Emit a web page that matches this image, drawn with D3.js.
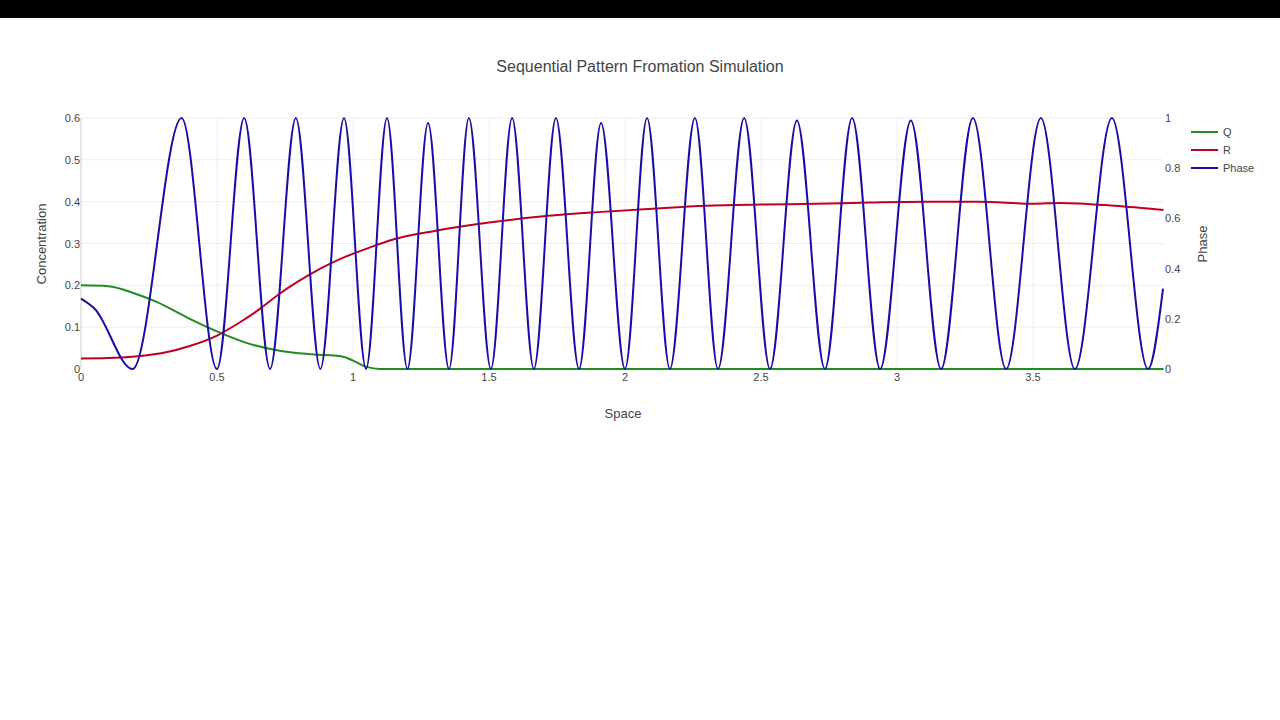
<!DOCTYPE html>
<html><head><meta charset="utf-8">
<script src="https://cdn.jsdelivr.net/npm/d3@7"></script>
<style>body{margin:0;background:#fff}svg{display:block}text{font-family:"Liberation Sans",Arial,sans-serif}</style>
</head><body><div id="chart"></div>
<script>
// Q concentration
const qX = [0, 0.1, 0.2, 0.28, 0.4, 0.5, 0.62, 0.72, 0.85, 0.96, 1.0, 1.05, 1.1, 2, 3, 3.98];
const qY = [0.2, 0.198, 0.18, 0.16, 0.12, 0.09, 0.06, 0.045, 0.035, 0.03, 0.02, 0.005, 0, 0, 0, 0];
// R concentration
const rX = [0, 0.1, 0.2, 0.3, 0.4, 0.5, 0.58, 0.65, 0.73, 0.8, 0.88, 0.96, 1.06, 1.15, 1.3, 1.5, 1.7, 1.9, 2.1, 2.3, 2.5, 2.7, 2.9, 3.1, 3.3, 3.5, 3.6, 3.8, 3.98];
const rY = [0.025, 0.026, 0.03, 0.038, 0.055, 0.08, 0.11, 0.14, 0.18, 0.21, 0.24, 0.265, 0.29, 0.31, 0.33, 0.35, 0.365, 0.375, 0.383, 0.39, 0.393, 0.395, 0.398, 0.4, 0.4, 0.395, 0.397, 0.39, 0.38];
// Phase (right axis) extrema
const pX = [0, 0.05, 0.19, 0.37, 0.5, 0.6, 0.695, 0.79, 0.88, 0.967, 1.048, 1.125, 1.2, 1.276, 1.353, 1.426, 1.507, 1.585, 1.665, 1.746, 1.831, 1.912, 2.0, 2.081, 2.165, 2.257, 2.342, 2.438, 2.533, 2.632, 2.735, 2.835, 2.938, 3.051, 3.162, 3.279, 3.401, 3.529, 3.654, 3.79, 3.923, 3.978];
const pY = [0.28, 0.24, 0, 1, 0, 1, 0, 1, 0, 1, 0, 1, 0, 0.98, 0, 1, 0, 1, 0, 1, 0, 0.98, 0, 1, 0, 1, 0, 1, 0, 0.99, 0, 1, 0, 0.99, 0, 1, 0, 1, 0, 1, 0, 0.32];
const xTicks = [0, 0.5, 1, 1.5, 2, 2.5, 3, 3.5];
const yTicks = [0, 0.1, 0.2, 0.3, 0.4, 0.5, 0.6];
const y2Ticks = [0, 0.2, 0.4, 0.6, 0.8, 1];

const svg = d3.select("#chart").append("svg").attr("width", 1280).attr("height", 720);
svg.append("rect").attr("width", 1280).attr("height", 720).attr("fill", "#fff");
svg.append("rect").attr("width", 1280).attr("height", 18).attr("fill", "#000");

const x = d3.scaleLinear().domain([0, 4]).range([81, 1169]);
const y = d3.scaleLinear().domain([0, 0.6]).range([369, 118]);
const y2 = d3.scaleLinear().domain([0, 1]).range([369, 118]);

// grid
svg.append("g").selectAll("line").data(yTicks.slice(1)).join("line")
  .attr("x1", 81).attr("x2", 1163).attr("y1", d => y(d)).attr("y2", d => y(d))
  .attr("stroke", "#eee");
svg.append("g").selectAll("line").data(xTicks.slice(1)).join("line")
  .attr("x1", d => x(d)).attr("x2", d => x(d)).attr("y1", 118).attr("y2", 369)
  .attr("stroke", "#eee");

const tick = {fill: "#444", size: "11px"};
svg.append("g").selectAll("text").data(xTicks).join("text")
  .attr("x", d => x(d)).attr("y", 381).attr("text-anchor", "middle")
  .style("font-size", tick.size).attr("fill", tick.fill).text(d => d);
svg.append("g").selectAll("text").data(yTicks).join("text")
  .attr("x", 80).attr("y", d => y(d) + 4).attr("text-anchor", "end")
  .style("font-size", tick.size).attr("fill", tick.fill).text(d => d);
svg.append("g").selectAll("text").data(y2Ticks).join("text")
  .attr("x", 1165).attr("y", d => y2(d) + 4).attr("text-anchor", "start")
  .style("font-size", tick.size).attr("fill", tick.fill).text(d => d);

svg.append("line").attr("x1", 81).attr("x2", 81).attr("y1", 118).attr("y2", 369).attr("stroke", "#ccc");

const line = (xs, ys, sc) => d3.line().x(i => x(xs[i])).y(i => sc(ys[i])).curve(d3.curveMonotoneX)(d3.range(xs.length));
svg.append("path").attr("d", line(qX, qY, y)).attr("fill", "none").attr("stroke", "#1f8c1f").attr("stroke-width", 2);
svg.append("path").attr("d", line(rX, rY, y)).attr("fill", "none").attr("stroke", "#c00020").attr("stroke-width", 2);
svg.append("path").attr("d", line(pX, pY, y2)).attr("fill", "none").attr("stroke", "#1a0da6").attr("stroke-width", 2);

svg.append("text").attr("x", 640).attr("y", 72).attr("text-anchor", "middle")
  .style("font-size", "16px").attr("fill", "#444").text("Sequential Pattern Fromation Simulation");
svg.append("text").attr("x", 623).attr("y", 418).attr("text-anchor", "middle")
  .style("font-size", "13px").attr("fill", "#444").text("Space");
svg.append("text").attr("transform", "translate(46,244) rotate(-90)").attr("text-anchor", "middle")
  .style("font-size", "13px").attr("fill", "#444").text("Concentration");
svg.append("text").attr("transform", "translate(1207,244) rotate(-90)").attr("text-anchor", "middle")
  .style("font-size", "13px").attr("fill", "#444").text("Phase");

const leg = [["Q", "#1f8c1f"], ["R", "#c00020"], ["Phase", "#1a0da6"]];
const lg = svg.append("g").selectAll("g").data(leg).join("g")
  .attr("transform", (d, i) => `translate(1191,${132 + i * 18})`);
lg.append("line").attr("x1", 0).attr("x2", 27).attr("stroke", d => d[1]).attr("stroke-width", 2);
lg.append("text").attr("x", 32).attr("y", 4).style("font-size", "11px").attr("fill", "#444").text(d => d[0]);
</script></body></html>
